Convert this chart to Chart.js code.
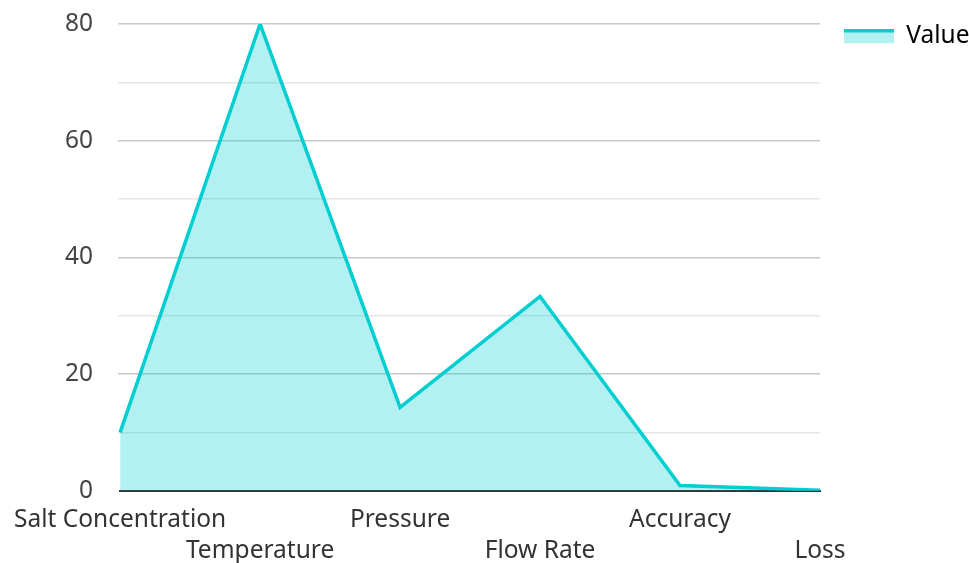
<!DOCTYPE html>
<html>
<head>
<meta charset="utf-8">
<script src="https://cdn.jsdelivr.net/npm/chart.js@4"></script>
<style>
  html, body { margin: 0; padding: 0; background: #fff; }
  #wrap { width: 969px; height: 563px; }
</style>
</head>
<body>
<div id="wrap"><canvas id="myChart"></canvas></div>
<script>
var categories = ["Salt Concentration", "Temperature", "Pressure", "Flow Rate", "Accuracy", "Loss"];
var values = [10, 80, 14.3, 33.3, 0.9, 0.1];
var yTicks = [0, 20, 40, 60, 80];

var lineColor = "#00CED1";
var fillColor = "rgba(0, 206, 209, 0.3)";
var fontFamily = "'Noto Sans', 'Open Sans', sans-serif";
var fontSize = 24.5;

// draws the line across the top of the legend box
var legendLine = {
    id: "legendLine",
    afterDraw: function (chart) {
        var lg = chart.legend;
        if (!lg || !lg.legendHitBoxes || !lg.legendHitBoxes.length) return;
        var box = lg.legendHitBoxes[0];
        var bw = lg.options.labels.boxWidth;
        var bh = lg.options.labels.boxHeight;
        var top = box.top + (box.height - bh) / 2;
        var ctx = chart.ctx;
        ctx.save();
        ctx.strokeStyle = lineColor;
        ctx.lineWidth = 3.5;
        ctx.beginPath();
        ctx.moveTo(box.left, top + 1.5);
        ctx.lineTo(box.left + bw, top + 1.5);
        ctx.stroke();
        ctx.restore();
    }
};

var ctx = document.getElementById("myChart");

var myChart = new Chart(ctx, {
    type: 'line',
    data: {
        labels: categories,
        datasets: [
            {
                label: "Value",
                data: values,
                borderColor: lineColor,
                backgroundColor: fillColor,
                borderWidth: 3.5,
                fill: 'origin',
                tension: 0,
                pointRadius: 0
            }
        ]
    },
    options: {
        responsive: true,
        maintainAspectRatio: false,
        animation: false,
        layout: { padding: { top: 0, left: 2, right: 0, bottom: -18 } },
        plugins: {
            legend: {
                position: 'right',
                align: 'start',
                maxWidth: 149,
                labels: {
                    boxWidth: 50,
                    boxHeight: 14,
                    padding: 24,
                    color: '#333',
                    font: { family: fontFamily, size: fontSize },
                    generateLabels: function (chart) {
                        return [{
                            text: "Value",
                            fillStyle: fillColor,
                            strokeStyle: fillColor,
                            lineWidth: 0,
                            datasetIndex: 0
                        }];
                    }
                }
            },
            tooltip: { enabled: false }
        },
        scales: {
            x: {
                offset: false,
                grid: { display: false, drawTicks: false },
                border: { display: true, color: '#333', width: 2 },
                ticks: {
                    autoSkip: false,
                    maxRotation: 0,
                    color: '#333',
                    padding: 14,
                    font: { family: fontFamily, size: fontSize, lineHeight: 1.27 },
                    callback: function (v, i) {
                        return i % 2 === 1 ? ['', categories[i]] : categories[i];
                    }
                }
            },
            y: {
                min: 0,
                max: 80,
                border: { display: false },
                afterFit: function (scale) { scale.paddingTop = 24; },
                grid: {
                    tickLength: 2,
                    color: function (c) {
                        if (c.tick.value === 0) return '#333';
                        return yTicks.indexOf(c.tick.value) >= 0 ? '#c8c8c8' : '#e6e6e6';
                    },
                    lineWidth: function (c) { return c.tick.value === 0 ? 0 : 1.5; }
                },
                ticks: {
                    stepSize: 10,
                    padding: 25,
                    color: '#444',
                    font: { family: fontFamily, size: fontSize },
                    callback: function (v) { return yTicks.indexOf(v) >= 0 ? v : ''; }
                }
            }
        }
    },
    plugins: [legendLine]
});
</script>
</body>
</html>
